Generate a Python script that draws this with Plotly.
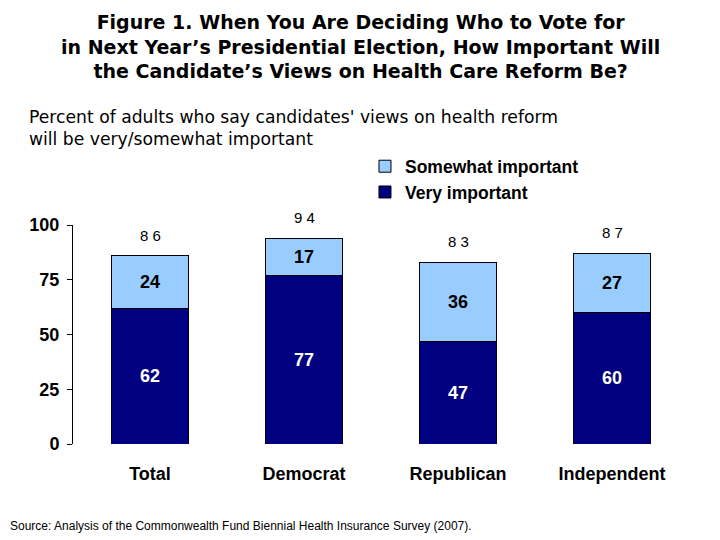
import plotly.graph_objects as go

categories = ["Total", "Democrat", "Republican", "Independent"]
very_important = [62, 77, 47, 60]
somewhat_important = [24, 17, 36, 27]
totals = [86, 94, 83, 87]

navy = "#000080"
light_blue = "#99CCFF"

fig = go.Figure()

fig.add_trace(go.Bar(
    x=categories, y=very_important, name="Very important",
    marker=dict(color=navy, line=dict(color="black", width=1)),
    text=very_important, textposition="inside", insidetextanchor="middle",
    textfont=dict(family="Liberation Sans", size=18, color="white", weight="bold"),
    width=0.5,
))
fig.add_trace(go.Bar(
    x=categories, y=somewhat_important, name="Somewhat important",
    marker=dict(color=light_blue, line=dict(color="black", width=1)),
    text=somewhat_important, textposition="inside", insidetextanchor="middle",
    textfont=dict(family="Liberation Sans", size=18, color="black", weight="bold"),
    width=0.5,
))

# totals above each stack
for cat, tot in zip(categories, totals):
    fig.add_annotation(
        x=cat, y=tot, text=" ".join(str(tot)), showarrow=False,
        yanchor="bottom", yshift=10,
        font=dict(family="Liberation Sans", size=15, color="black"),
    )

fig.update_layout(
    barmode="stack",
    width=712, height=532,
    margin=dict(l=65, r=31, t=217, b=96),
    paper_bgcolor="white", plot_bgcolor="white",
    font=dict(family="Liberation Sans", color="black"),
    legend=dict(
        x=0.474, y=1.35, xanchor="left", yanchor="top",
        font=dict(family="Liberation Sans", size=17.5, color="black", weight="bold"),
        bgcolor="rgba(0,0,0,0)", tracegroupgap=0,
    ),
    showlegend=True,
)

fig.update_yaxes(
    range=[0, 100], tickvals=[0, 25, 50, 75, 100],
    showgrid=False, zeroline=False,
    showline=True, linecolor="black", linewidth=1,
    ticks="outside", ticklen=5, tickcolor="black",
    tickfont=dict(family="Liberation Sans", size=18, color="black", weight="bold"),
    ticklabelstandoff=4,
)
fig.update_xaxes(
    range=[-0.5, 3.5], showgrid=False, zeroline=False, showline=False,
    ticks="", ticklabelstandoff=17,
    tickfont=dict(family="Liberation Sans", size=18, color="black", weight="bold"),
)

fig.add_annotation(
    text="Figure 1. When You Are Deciding Who to Vote for<br>"
         "in Next Year’s Presidential Election, How Important Will<br>"
         "the Candidate’s Views on Health Care Reform Be?",
    xref="paper", yref="paper", x=0.466, y=1.985,
    xanchor="center", yanchor="top", align="center", showarrow=False,
    font=dict(family="DejaVu Sans", size=19, color="black", weight="bold"),
)
fig.add_annotation(
    text="Percent of adults who say candidates' views on health reform<br>"
         "will be very/somewhat important",
    xref="paper", yref="paper", x=-0.075, y=1.548,
    xanchor="left", yanchor="top", align="left", showarrow=False,
    font=dict(family="DejaVu Sans", size=17.2, color="black"),
)
fig.add_annotation(
    text="Source: Analysis of the Commonwealth Fund Biennial Health Insurance Survey (2007).",
    xref="paper", yref="paper", x=-0.106, y=-0.333,
    xanchor="left", yanchor="top", align="left", showarrow=False,
    font=dict(family="Liberation Sans", size=12, color="black"),
)

fig.write_html("out.html")
